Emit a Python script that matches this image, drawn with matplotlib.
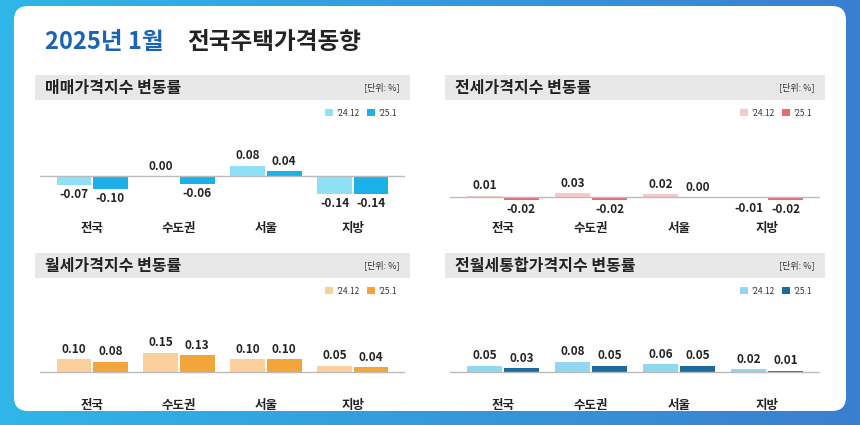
import numpy as np
import matplotlib.pyplot as plt
from matplotlib.patches import FancyBboxPatch, Rectangle
from matplotlib import font_manager

names = {f.name for f in font_manager.fontManager.ttflist}
cjk = [n for n in ['Noto Sans CJK KR', 'Noto Sans CJK JP', 'Noto Sans CJK SC', 'Noto Sans CJK TC'] if n in names]
plt.rcParams['font.family'] = cjk + ['DejaVu Sans']

W, H = 860, 425
regions = ['전국', '수도권', '서울', '지방']
series_names = ["'24.12", "'25.1"]

sale_prev = [-0.07, 0.00, 0.08, -0.14]
sale_curr = [-0.10, -0.06, 0.04, -0.14]
jeonse_prev = [0.01, 0.03, 0.02, -0.01]
jeonse_curr = [-0.02, -0.02, 0.00, -0.02]
monthly_prev = [0.10, 0.15, 0.10, 0.05]
monthly_curr = [0.08, 0.13, 0.10, 0.04]
combined_prev = [0.05, 0.08, 0.06, 0.02]
combined_curr = [0.03, 0.05, 0.05, 0.01]

fig = plt.figure(figsize=(W / 100, H / 100), dpi=100)

# background gradient + white card
bg = fig.add_axes([0, 0, 1, 1])
grad = np.linspace(0, 1, 256).reshape(1, -1)
bg.imshow(grad, extent=[0, W, 0, H], aspect='auto',
          cmap=plt.matplotlib.colors.LinearSegmentedColormap.from_list('g', ['#2fb6e8', '#3a7fd0']))
bg.add_patch(FancyBboxPatch((14, 6), W - 28, H - 20, boxstyle='round,pad=0,rounding_size=14',
                            fc='white', ec='none'))
bg.set_xlim(0, W)
bg.set_ylim(H, 0)
bg.axis('off')

bg.text(45, 42, '2025년 1월', color='#1a64b4', fontsize=17, fontweight='bold', va='center')
bg.text(187, 42, '전국주택가격동향', color='#222222', fontsize=17, fontweight='bold', va='center')

SCALE = 130  # px per %


def panel(title, x0, x1, head_y, base_y, prev, curr, c_prev, c_curr, cat_y):
    bg.add_patch(Rectangle((x0 - 5, head_y), x1 - x0 + 10, 25, fc='#e8e8e8', ec='none'))
    bg.text(x0 + 5, head_y + 12.5, title, fontsize=11.5, fontweight='bold', va='center', color='#222')
    bg.text(x1 - 5, head_y + 12.5, '[단위: %]', fontsize=6.5, ha='right', va='center', color='#333')
    # legend
    lx = x1 - 80
    for i, (nm, c) in enumerate(zip(series_names, [c_prev, c_curr])):
        bg.add_patch(Rectangle((lx + i * 42, head_y + 34), 8, 7, fc=c, ec='none'))
        bg.text(lx + i * 42 + 11, head_y + 38, nm, fontsize=6, va='center', color='#333')

    top, bot = base_y - 60, base_y + 35
    ax = fig.add_axes([x0 / W, 1 - bot / H, (x1 - x0) / W, (bot - top) / H])
    ax.set_xlim(-0.6, 3.6)
    ax.set_ylim(-35 / SCALE, 60 / SCALE)
    ax.axis('off')
    ax.axhline(0, color='#bbbbbb', lw=1)
    x = np.arange(len(regions))
    ax.bar(x - 0.21, prev, 0.4, color=c_prev)
    ax.bar(x + 0.21, curr, 0.4, color=c_curr)
    for xs, vals in [(x - 0.21, prev), (x + 0.21, curr)]:
        for xi, v in zip(xs, vals):
            off = 0.025 if v >= 0 else -0.025
            ax.text(xi, v + off, f'{v:.2f}', ha='center', va='bottom' if v >= 0 else 'top',
                    fontsize=8.5, fontweight='bold', color='#222')
    for xi, r in zip(x, regions):
        bg.text(x0 + (xi + 0.6) / 4.2 * (x1 - x0), cat_y, r, ha='center', va='center',
                fontsize=9, fontweight='bold', color='#222')


panel('매매가격지수 변동률', 40, 405, 75, 176, sale_prev, sale_curr, '#8fe0f6', '#1bb1e7', 228)
panel('전세가격지수 변동률', 450, 820, 75, 197, jeonse_prev, jeonse_curr, '#f8c8c8', '#e86c6c', 228)
panel('월세가격지수 변동률', 40, 405, 253, 372, monthly_prev, monthly_curr, '#fbd09c', '#f4a53a', 406)
panel('전월세통합가격지수 변동률', 450, 820, 253, 372, combined_prev, combined_curr, '#93d6ef', '#1a6c9e', 406)

fig.savefig('out.png', dpi=100)
